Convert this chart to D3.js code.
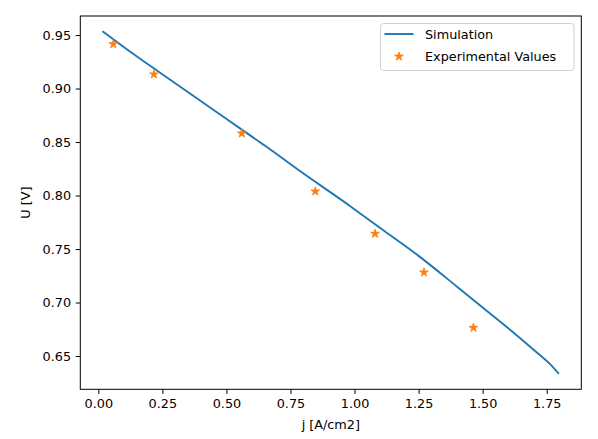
<!DOCTYPE html>
<html>
<head>
<meta charset="utf-8">
<script src="https://cdn.jsdelivr.net/npm/d3@7"></script>
<style>
  html, body { margin: 0; padding: 0; background: #fff; }
  text { font-family: "DejaVu Sans", sans-serif; }
</style>
</head>
<body>
<svg id="chart" width="598" height="439"></svg>
<script>
// Simulation curve
const simJ = [0.019, 0.137, 0.30, 0.45, 0.56, 0.651, 0.787, 0.982, 1.10, 1.25, 1.40, 1.50, 1.594, 1.70, 1.763, 1.795];
const simU = [0.9531, 0.9322, 0.9050, 0.8800, 0.8616, 0.8465, 0.8229, 0.7903, 0.7697, 0.7436, 0.7148, 0.6953, 0.6772, 0.6556, 0.6424, 0.6340];
// Experimental values
const expJ = [0.0585, 0.217, 0.560, 0.847, 1.080, 1.271, 1.464];
const expU = [0.9416, 0.9133, 0.8581, 0.8039, 0.7643, 0.7282, 0.6764];
// Ticks
const xTicks = [0.00, 0.25, 0.50, 0.75, 1.00, 1.25, 1.50, 1.75];
const yTicks = [0.65, 0.70, 0.75, 0.80, 0.85, 0.90, 0.95];
const seriesNames = ["Simulation", "Experimental Values"];

const svg = d3.select("#chart");
const L = 80.3, R = 581.3, T = 16, B = 389.3;
const fs = "12.8px";

const x = d3.scaleLinear().domain([-0.0703, 1.885]).range([L, R]);
const y = d3.scaleLinear().domain([0.6189, 0.9678]).range([B, T]);

const blue = "#1f77b4", orange = "#ff7f0e";

// Axes
const xAxis = d3.axisBottom(x).tickValues(xTicks).tickFormat(d3.format(".2f")).tickSize(4.6).tickPadding(4.6);
const yAxis = d3.axisLeft(y).tickValues(yTicks).tickFormat(d3.format(".2f")).tickSize(4.6).tickPadding(4.6);

const gx = svg.append("g").attr("transform", `translate(0,${B})`).call(xAxis);
const gy = svg.append("g").attr("transform", `translate(${L},0)`).call(yAxis);
[gx, gy].forEach(g => {
  g.select(".domain").remove();
  g.selectAll(".tick line").attr("stroke", "#000").attr("stroke-width", 1);
  g.selectAll(".tick text").attr("fill", "#000").style("font-size", fs).style("font-family", "DejaVu Sans");
});

// Clip
svg.append("clipPath").attr("id", "clip").append("rect")
  .attr("x", L).attr("y", T).attr("width", R - L).attr("height", B - T);

// Simulation line
const simData = simJ.map((d, i) => [d, simU[i]]);
svg.append("path")
  .datum(simData)
  .attr("clip-path", "url(#clip)")
  .attr("fill", "none")
  .attr("stroke", blue)
  .attr("stroke-width", 1.9)
  .attr("stroke-linecap", "square")
  .attr("d", d3.line().curve(d3.curveMonotoneX).x(d => x(d[0])).y(d => y(d[1])));

// Experimental stars
const star = d3.symbol().type(d3.symbolStar).size(24);
svg.append("g").selectAll("path")
  .data(expJ.map((d, i) => [d, expU[i]]))
  .join("path")
  .attr("d", star)
  .attr("transform", d => `translate(${x(d[0])},${y(d[1])})`)
  .attr("fill", orange)
  .attr("stroke", orange)
  .attr("stroke-width", 0.8);

// Frame
svg.append("rect")
  .attr("x", L).attr("y", T).attr("width", R - L).attr("height", B - T)
  .attr("fill", "none").attr("stroke", "#000").attr("stroke-width", 1);

// Axis labels
svg.append("text")
  .attr("x", (L + R) / 2).attr("y", 428.5)
  .attr("text-anchor", "middle")
  .style("font-size", fs)
  .text("j [A/cm2]");
svg.append("text")
  .attr("transform", `translate(30,${(T + B) / 2}) rotate(-90)`)
  .attr("text-anchor", "middle")
  .style("font-size", fs)
  .text("U [V]");

// Legend
const lg = svg.append("g");
lg.append("rect")
  .attr("x", 380.5).attr("y", 23.5).attr("width", 193.5).attr("height", 47)
  .attr("rx", 3).attr("ry", 3)
  .attr("fill", "#fff").attr("fill-opacity", 0.8)
  .attr("stroke", "#d0d0d0").attr("stroke-width", 1);
lg.append("line")
  .attr("x1", 384.5).attr("x2", 413.5).attr("y1", 34).attr("y2", 34)
  .attr("stroke", blue).attr("stroke-width", 1.9);
lg.append("path")
  .attr("d", star)
  .attr("transform", "translate(399,56.5)")
  .attr("fill", orange).attr("stroke", orange).attr("stroke-width", 0.8);
lg.selectAll("text.leg")
  .data(seriesNames)
  .join("text")
  .attr("class", "leg")
  .attr("x", 425)
  .attr("y", (d, i) => 34 + i * 22.5)
  .attr("dy", "0.36em")
  .style("font-size", fs)
  .text(d => d);
</script>
</body>
</html>
